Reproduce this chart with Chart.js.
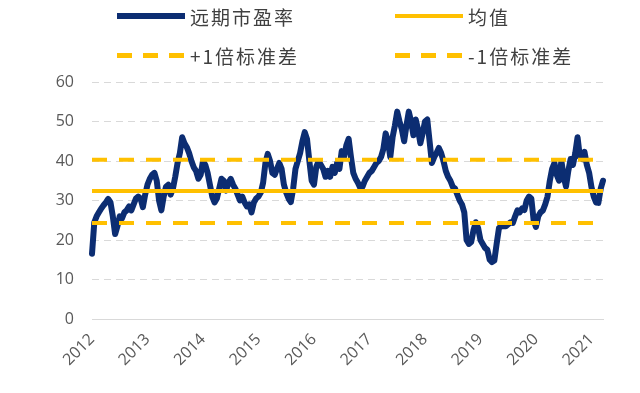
<!DOCTYPE html>
<html>
<head>
<meta charset="utf-8">
<script src="https://cdn.jsdelivr.net/npm/chart.js@4.4.1/dist/chart.umd.min.js"></script>
<style>
  body { margin: 0; background: #fff; }
  #wrap { position: relative; width: 640px; height: 393px; }
  .lg { position: absolute; display: flex; align-items: center; height: 26px;
        font-family: "Noto Sans CJK SC", sans-serif; font-size: 19px; color: #404040; letter-spacing: 2px; }
  .sw { width: 68px; height: 6px; margin-right: 5px; }
  .solid-navy { background: #0c2d72; height: 6px; }
  .solid-gold { background: #ffc000; height: 4px; }
  .dash-gold { height: 5px; background: repeating-linear-gradient(to right, #ffc000 0 15px, transparent 15px 26px); }
</style>
</head>
<body>
<div id="wrap">
  <canvas id="myChart" width="640" height="393"></canvas>
  <div class="lg" style="left:117px;top:3px"><div class="sw solid-navy"></div>远期市盈率</div>
  <div class="lg" style="left:395px;top:3px"><div class="sw solid-gold"></div>均值</div>
  <div class="lg" style="left:117px;top:42px"><div class="sw dash-gold"></div>+1倍标准差</div>
  <div class="lg" style="left:395px;top:42px"><div class="sw dash-gold"></div>-1倍标准差</div>
</div>
<script>
// forward PE, semi-monthly readings
var years = ['2012', '2013', '2014', '2015', '2016', '2017', '2018', '2019', '2020', '2021'];
var pe2012 = [16.5, 24.5, 26, 27, 28, 28.8, 29.5, 30.4, 29.5, 26, 21.5, 23.5, 26, 25.5, 27, 27.5, 28.5, 27.5, 29, 30.5, 31, 30.5, 28.3, 31.5];
var pe2013 = [34, 35.5, 36.5, 37, 35, 30, 27.5, 31, 33.5, 34, 31.5, 33, 36, 39.5, 42, 46, 44.5, 43.5, 42, 40, 38.4, 37.5, 35.5, 36.5];
var pe2014 = [40, 39, 37, 34, 31, 29.5, 30.5, 33, 35.5, 35, 32.5, 34.5, 35.5, 34, 33, 31.5, 30, 31, 29.5, 28.5, 29, 27, 29.5, 30.5];
var pe2015 = [31, 32, 34.5, 39.5, 41.8, 40, 37, 36.5, 38, 39.5, 38, 34, 32, 30.5, 29.6, 33, 38, 40, 42, 45, 47.3, 45.5, 40, 35];
var pe2016 = [34, 38.5, 40, 39, 38, 36, 37.5, 36, 38.5, 37, 39.5, 38, 42.5, 41, 44, 45.6, 41, 37, 35.5, 34.5, 33.2, 33.5, 35, 36];
var pe2017 = [37, 37.5, 38.5, 39.5, 40, 41, 43, 47, 45, 41, 46, 49, 52.5, 50, 48, 45, 49, 52.5, 50, 46.5, 50.5, 48, 44.5, 47];
var pe2018 = [50, 50.5, 45, 39.5, 41, 42, 43.3, 42, 40, 37.5, 36, 35, 33.5, 33, 31.5, 30, 29, 27, 20, 19, 19.5, 22.5, 24.5, 23];
var pe2019 = [20, 19, 18, 17.5, 15, 14.4, 14.8, 19, 23, 23.5, 23.5, 23.5, 24, 24.5, 24.3, 26, 27.5, 27, 28, 27.6, 30, 31, 30.5, 25];
var pe2020 = [23.3, 26, 27, 27.5, 29, 31, 35, 38, 39.5, 36.5, 35, 40, 36, 33.5, 37.5, 40.5, 39, 42, 46, 41, 40.5, 42.3, 39, 37];
var pe2021 = [33.4, 31, 29.5, 29.4, 33, 35];
var avgPE = 32.4;
var plusStd = 40.3;
var minusStd = 24.3;

var navy = '#0c2d72';
var gold = '#ffc000';

var perYear = [pe2012, pe2013, pe2014, pe2015, pe2016, pe2017, pe2018, pe2019, pe2020, pe2021];
var labels = [];
var pe = [];
perYear.forEach(function (arr, i) {
  arr.forEach(function (v, k) {
    labels.push(k === 0 ? years[i] : years[i] + '-' + k);
    pe.push(v);
  });
});

var tickFont = { family: 'Open Sans', size: 16 };
var ctx = document.getElementById('myChart').getContext('2d');
var myChart = new Chart(ctx, {
  type: 'line',
  data: {
    labels: labels,
    datasets: [
      { label: '远期市盈率', data: pe, borderColor: navy, borderWidth: 6, borderJoinStyle: 'round', borderCapStyle: 'round', pointRadius: 0, tension: 0, order: 2 },
      { label: '均值', data: labels.map(function () { return avgPE; }), borderColor: gold, borderWidth: 4, pointRadius: 0, order: 1 },
      { label: '+1倍标准差', data: labels.map(function () { return plusStd; }), borderColor: gold, borderWidth: 4, borderDash: [15, 12], pointRadius: 0, order: 1 },
      { label: '-1倍标准差', data: labels.map(function () { return minusStd; }), borderColor: gold, borderWidth: 4, borderDash: [15, 12], pointRadius: 0, order: 1 }
    ]
  },
  options: {
    responsive: false,
    animation: false,
    layout: { padding: { top: 82, right: 37, left: 0, bottom: 0 } },
    plugins: { legend: { display: false }, tooltip: { enabled: false } },
    scales: {
      x: {
        grid: { display: false },
        border: { display: true, color: '#d9d9d9', width: 1 },
        ticks: {
          autoSkip: false, minRotation: 45, maxRotation: 45, color: '#595959', font: tickFont,
          callback: function (v) {
            var l = this.getLabelForValue(v);
            return l.indexOf('-') >= 0 ? '' : l;
          }
        },
        afterFit: function (s) { s.height = 74; }
      },
      y: {
        min: 0, max: 60,
        ticks: { stepSize: 10, color: '#595959', font: tickFont, padding: 18 },
        grid: { color: '#d9d9d9', drawTicks: false, lineWidth: 1 },
        border: { display: false, dash: [7, 5] },
        afterFit: function (s) { s.width = 92; }
      }
    }
  }
});
</script>
</body>
</html>
